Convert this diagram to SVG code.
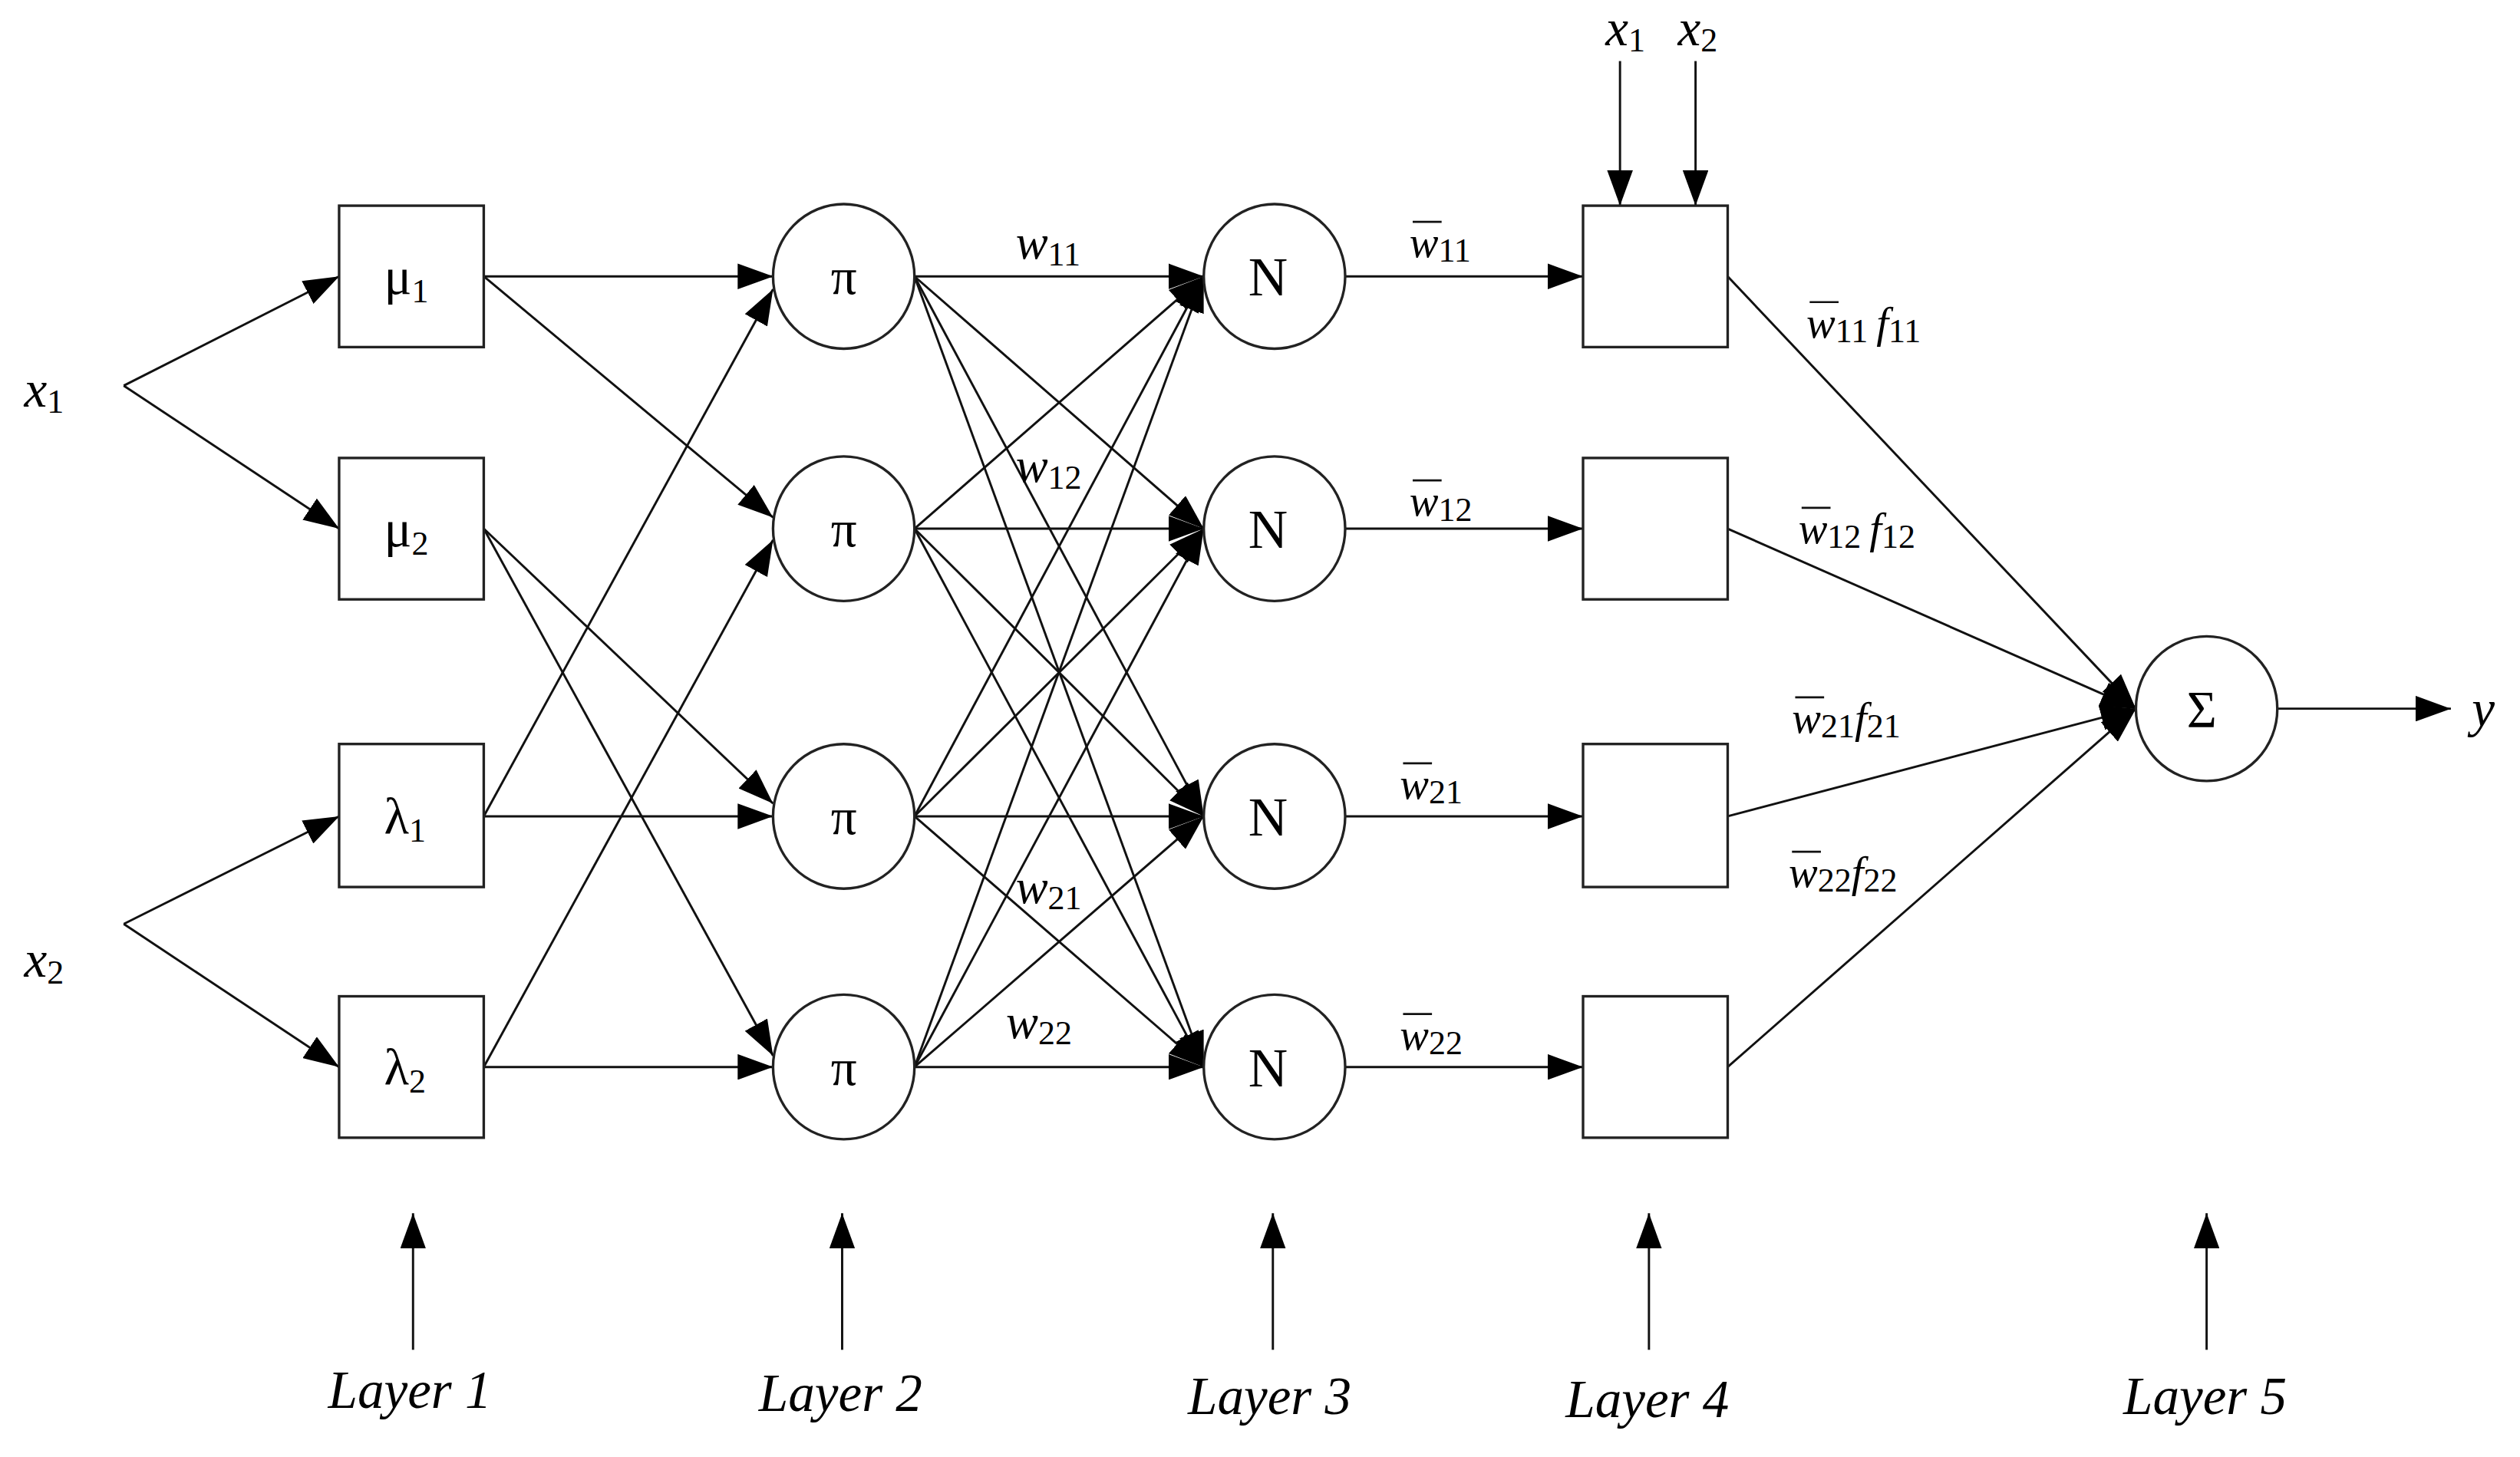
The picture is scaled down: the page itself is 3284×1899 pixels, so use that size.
<svg xmlns="http://www.w3.org/2000/svg" width="3284" height="1899" viewBox="0 0 3284 1899">
<defs>
<marker id="ah" markerUnits="userSpaceOnUse" markerWidth="22" markerHeight="16" refX="22" refY="8" orient="auto"><path d="M0,0 L22,8 L0,16 Z" fill="#000"/></marker>
<style>
.n{fill:#fff;stroke:#222;stroke-width:1.6}
.c line,.c path{stroke:#111;stroke-width:1.4;fill:none}
.a{marker-end:url(#ah)}
.t{font-family:"Liberation Serif",serif;fill:#000}
.i{font-style:italic}
.sub{font-size:21px}
</style>
</defs>
<rect width="3284" height="1899" fill="#fff"/>
<g transform="scale(2.0944)">
<g class="c" id="connectors">
<line x1="77" y1="240" x2="211" y2="172" class="a"/>
<line x1="77" y1="240" x2="211" y2="329" class="a"/>
<line x1="77" y1="575" x2="211" y2="508" class="a"/>
<line x1="77" y1="575" x2="211" y2="664" class="a"/>
<line x1="301" y1="172" x2="481" y2="172" class="a"/>
<line x1="301" y1="172" x2="481" y2="322" class="a"/>
<line x1="301" y1="508" x2="481" y2="180" class="a"/>
<line x1="301" y1="508" x2="481" y2="508" class="a"/>
<line x1="301" y1="329" x2="481" y2="500" class="a"/>
<line x1="301" y1="329" x2="481" y2="657" class="a"/>
<line x1="301" y1="664" x2="481" y2="336" class="a"/>
<line x1="301" y1="664" x2="481" y2="664" class="a"/>
<line x1="569" y1="172" x2="749" y2="172" class="a"/><line x1="569" y1="172" x2="749" y2="329" class="a"/><line x1="569" y1="172" x2="749" y2="508" class="a"/><line x1="569" y1="172" x2="749" y2="664" class="a"/>
<line x1="569" y1="329" x2="749" y2="172" class="a"/><line x1="569" y1="329" x2="749" y2="329" class="a"/><line x1="569" y1="329" x2="749" y2="508" class="a"/><line x1="569" y1="329" x2="749" y2="664" class="a"/>
<line x1="569" y1="508" x2="749" y2="172" class="a"/><line x1="569" y1="508" x2="749" y2="329" class="a"/><line x1="569" y1="508" x2="749" y2="508" class="a"/><line x1="569" y1="508" x2="749" y2="664" class="a"/>
<line x1="569" y1="664" x2="749" y2="172" class="a"/><line x1="569" y1="664" x2="749" y2="329" class="a"/><line x1="569" y1="664" x2="749" y2="508" class="a"/><line x1="569" y1="664" x2="749" y2="664" class="a"/>
<line x1="837" y1="172" x2="985" y2="172" class="a"/>
<line x1="837" y1="329" x2="985" y2="329" class="a"/>
<line x1="837" y1="508" x2="985" y2="508" class="a"/>
<line x1="837" y1="664" x2="985" y2="664" class="a"/>
<line x1="1008" y1="38" x2="1008" y2="128" class="a"/>
<line x1="1055" y1="38" x2="1055" y2="128" class="a"/>
<line x1="1075" y1="172" x2="1329" y2="441" class="a"/>
<line x1="1075" y1="329" x2="1329" y2="441" class="a"/>
<line x1="1075" y1="508" x2="1329" y2="441" class="a"/>
<line x1="1075" y1="664" x2="1329" y2="441" class="a"/>
<line x1="1417" y1="441" x2="1525" y2="441" class="a"/>
<line x1="257" y1="840" x2="257" y2="755" class="a"/>
<line x1="524" y1="840" x2="524" y2="755" class="a"/>
<line x1="792" y1="840" x2="792" y2="755" class="a"/>
<line x1="1026" y1="840" x2="1026" y2="755" class="a"/>
<line x1="1373" y1="840" x2="1373" y2="755" class="a"/>
</g>
<g id="L1-mu1"><rect class="n" x="211" y="128" width="90" height="88"/><text class="t" x="239" y="183" font-size="32">μ<tspan class="sub" dy="5">1</tspan></text></g>
<g id="L1-mu2"><rect class="n" x="211" y="285" width="90" height="88"/><text class="t" x="239" y="340" font-size="32">μ<tspan class="sub" dy="5">2</tspan></text></g>
<g id="L1-l1"><rect class="n" x="211" y="463" width="90" height="89"/><text class="t" x="239" y="519" font-size="32">λ<tspan class="sub" dy="5">1</tspan></text></g>
<g id="L1-l2"><rect class="n" x="211" y="620" width="90" height="88"/><text class="t" x="239" y="675" font-size="32">λ<tspan class="sub" dy="5">2</tspan></text></g>
<g id="L2"><g id="p1"><ellipse class="n" cx="525" cy="172" rx="44" ry="45"/><text class="t" x="525" y="183" font-size="32" text-anchor="middle">π</text></g>
<g id="p2"><ellipse class="n" cx="525" cy="329" rx="44" ry="45"/><text class="t" x="525" y="340" font-size="32" text-anchor="middle">π</text></g>
<g id="p3"><ellipse class="n" cx="525" cy="508" rx="44" ry="45"/><text class="t" x="525" y="519" font-size="32" text-anchor="middle">π</text></g>
<g id="p4"><ellipse class="n" cx="525" cy="664" rx="44" ry="45"/><text class="t" x="525" y="675" font-size="32" text-anchor="middle">π</text></g></g>
<g id="L3"><g id="n1"><ellipse class="n" cx="793" cy="172" rx="44" ry="45"/><text class="t" x="789" y="184" font-size="34" text-anchor="middle">N</text></g>
<g id="n2"><ellipse class="n" cx="793" cy="329" rx="44" ry="45"/><text class="t" x="789" y="341" font-size="34" text-anchor="middle">N</text></g>
<g id="n3"><ellipse class="n" cx="793" cy="508" rx="44" ry="45"/><text class="t" x="789" y="520" font-size="34" text-anchor="middle">N</text></g>
<g id="n4"><ellipse class="n" cx="793" cy="664" rx="44" ry="45"/><text class="t" x="789" y="676" font-size="34" text-anchor="middle">N</text></g></g>
<g id="L4"><rect class="n" x="985" y="128" width="90" height="88"/><rect class="n" x="985" y="285" width="90" height="88"/><rect class="n" x="985" y="463" width="90" height="89"/><rect class="n" x="985" y="620" width="90" height="88"/></g>
<g id="L5"><ellipse class="n" cx="1373" cy="441" rx="44" ry="45"/><text class="t" x="1370" y="452" font-size="32" text-anchor="middle">Σ</text></g>
<g id="labels" class="t">
<text class="i" x="15" y="253" font-size="32">x<tspan class="sub" dy="4" font-style="normal">1</tspan></text>
<text class="i" x="15" y="608" font-size="32">x<tspan class="sub" dy="4" font-style="normal">2</tspan></text>
<text class="i" x="999" y="28" font-size="32">x<tspan class="sub" dy="4" font-style="normal">1</tspan></text>
<text class="i" x="1044" y="28" font-size="32">x<tspan class="sub" dy="4" font-style="normal">2</tspan></text>
<text class="i" x="1538" y="452" font-size="32">y</text>
<text class="i" x="632" y="161" font-size="30">w<tspan class="sub" dy="4" font-style="normal">11</tspan></text>
<text class="i" x="632" y="300" font-size="30">w<tspan class="sub" dy="4" font-style="normal">12</tspan></text>
<text class="i" x="632" y="562" font-size="30">w<tspan class="sub" dy="4" font-style="normal">21</tspan></text>
<text class="i" x="626" y="646" font-size="30">w<tspan class="sub" dy="4" font-style="normal">22</tspan></text>
<text class="i" x="877" y="160" font-size="27">w<tspan class="sub" dy="3" font-style="normal">11</tspan></text>
<text class="i" x="877" y="321" font-size="27">w<tspan class="sub" dy="3" font-style="normal">12</tspan></text>
<text class="i" x="871" y="497" font-size="27">w<tspan class="sub" dy="3" font-style="normal">21</tspan></text>
<text class="i" x="871" y="653" font-size="27">w<tspan class="sub" dy="3" font-style="normal">22</tspan></text>
<text class="i" x="1124" y="210" font-size="27">w<tspan class="sub" dy="3" font-style="normal">11 </tspan><tspan dy="-3">f</tspan><tspan class="sub" dy="3" font-style="normal">11</tspan></text>
<text class="i" x="1119" y="338" font-size="27">w<tspan class="sub" dy="3" font-style="normal">12 </tspan><tspan dy="-3">f</tspan><tspan class="sub" dy="3" font-style="normal">12</tspan></text>
<text class="i" x="1115" y="456" font-size="27">w<tspan class="sub" dy="3" font-style="normal">21</tspan><tspan dy="-3">f</tspan><tspan class="sub" dy="3" font-style="normal">21</tspan></text>
<text class="i" x="1113" y="552" font-size="27">w<tspan class="sub" dy="3" font-style="normal">22</tspan><tspan dy="-3">f</tspan><tspan class="sub" dy="3" font-style="normal">22</tspan></text>
<g stroke="#111" stroke-width="1.3">
<line x1="879" y1="138" x2="897" y2="138"/><line x1="879" y1="299" x2="897" y2="299"/><line x1="873" y1="475" x2="891" y2="475"/><line x1="873" y1="631" x2="891" y2="631"/>
<line x1="1126" y1="188" x2="1144" y2="188"/><line x1="1121" y1="316" x2="1139" y2="316"/><line x1="1117" y1="434" x2="1135" y2="434"/><line x1="1115" y1="530" x2="1133" y2="530"/>
</g>
<text class="i" x="255" y="876" font-size="33" text-anchor="middle">Layer 1</text>
<text class="i" x="523" y="878" font-size="33" text-anchor="middle">Layer 2</text>
<text class="i" x="790" y="880" font-size="33" text-anchor="middle">Layer 3</text>
<text class="i" x="1025" y="882" font-size="33" text-anchor="middle">Layer 4</text>
<text class="i" x="1372" y="880" font-size="33" text-anchor="middle">Layer 5</text>
</g>
</g>
</svg>
